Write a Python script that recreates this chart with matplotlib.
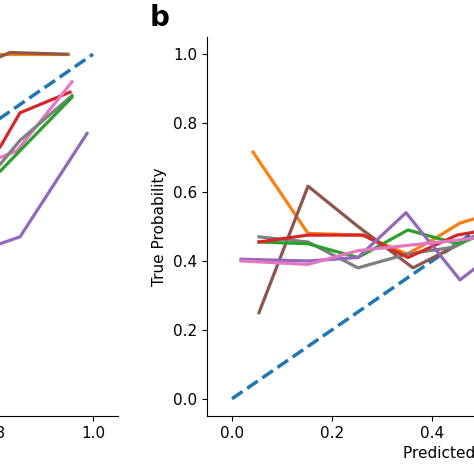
import numpy as np
import matplotlib.pyplot as plt

# calibration curves, panel a (only right part visible in the reference)
a_x = {
    'orange': [0.55, 0.65, 0.75, 0.81, 0.85, 0.95],
    'brown':  [0.55, 0.65, 0.75, 0.81, 0.834, 0.948],
    'red':    [0.55, 0.65, 0.75, 0.814, 0.854, 0.954],
    'pink':   [0.55, 0.65, 0.75, 0.814, 0.848, 0.958],
    'gray':   [0.55, 0.65, 0.75, 0.814, 0.854, 0.958],
    'green':  [0.55, 0.65, 0.75, 0.814, 0.854, 0.958],
    'purple': [0.55, 0.65, 0.75, 0.814, 0.854, 0.988],
}
a_y = {
    'orange': [0.90, 0.95, 0.98, 1.0, 1.0, 1.0],
    'brown':  [0.85, 0.92, 0.96, 0.99, 1.005, 1.0],
    'red':    [0.55, 0.62, 0.68, 0.73, 0.83, 0.89],
    'pink':   [0.50, 0.58, 0.65, 0.70, 0.72, 0.92],
    'gray':   [0.50, 0.57, 0.63, 0.68, 0.75, 0.88],
    'green':  [0.48, 0.55, 0.62, 0.66, 0.72, 0.875],
    'purple': [0.30, 0.36, 0.42, 0.45, 0.47, 0.77],
}

# calibration curves, panel b
b_x = {
    'orange': [0.042, 0.152, 0.262, 0.35, 0.40, 0.456, 0.55, 0.65],
    'brown':  [0.054, 0.152, 0.252, 0.362, 0.443, 0.55, 0.65],
    'gray':   [0.054, 0.152, 0.252, 0.35, 0.443, 0.55, 0.65],
    'green':  [0.054, 0.152, 0.252, 0.352, 0.45, 0.55, 0.65],
    'red':    [0.054, 0.152, 0.262, 0.352, 0.45, 0.55, 0.65],
    'purple': [0.018, 0.152, 0.252, 0.348, 0.456, 0.55, 0.65],
    'pink':   [0.018, 0.152, 0.252, 0.35, 0.45, 0.55, 0.65],
}
b_y = {
    'orange': [0.716, 0.48, 0.475, 0.42, 0.46, 0.51, 0.55, 0.58],
    'brown':  [0.25, 0.617, 0.50, 0.38, 0.44, 0.52, 0.55],
    'gray':   [0.47, 0.455, 0.38, 0.42, 0.44, 0.52, 0.54],
    'green':  [0.455, 0.45, 0.41, 0.49, 0.45, 0.50, 0.52],
    'red':    [0.455, 0.475, 0.475, 0.41, 0.475, 0.50, 0.52],
    'purple': [0.405, 0.40, 0.41, 0.54, 0.345, 0.45, 0.50],
    'pink':   [0.40, 0.39, 0.43, 0.445, 0.46, 0.48, 0.50],
}

colors = {'orange': 'C1', 'brown': 'C5', 'red': 'C3', 'pink': 'C6',
          'gray': 'C7', 'green': 'C2', 'purple': 'C4'}
ticks = [0.0, 0.2, 0.4, 0.6, 0.8, 1.0]

fig = plt.figure(figsize=(4.74, 4.74), dpi=100)
W = 474.0
ax_a = fig.add_axes([-432 / W, 58 / W, 550 / W, 379 / W])
ax_b = fig.add_axes([207 / W, 58 / W, 550 / W, 379 / W])

for ax, xs, ys in [(ax_a, a_x, a_y), (ax_b, b_x, b_y)]:
    ax.plot([0, 1], [0, 1], '--', color='C0', lw=2.5)
    for k in xs:
        ax.plot(xs[k], ys[k], color=colors[k], lw=2.3)
    ax.set_xlim(-0.05, 1.05)
    ax.set_ylim(-0.05, 1.05)
    ax.set_xticks(ticks)
    ax.set_yticks(ticks)
    ax.tick_params(labelsize=11)
    ax.spines['top'].set_visible(False)
    ax.spines['right'].set_visible(False)
    ax.set_xlabel('Predicted Probability', fontsize=11)
    ax.set_ylabel('True Probability', fontsize=11)

fig.text(150 / W, 1 - 26 / W, 'b', fontsize=20, fontweight='bold')

fig.savefig('out.png', dpi=100)
